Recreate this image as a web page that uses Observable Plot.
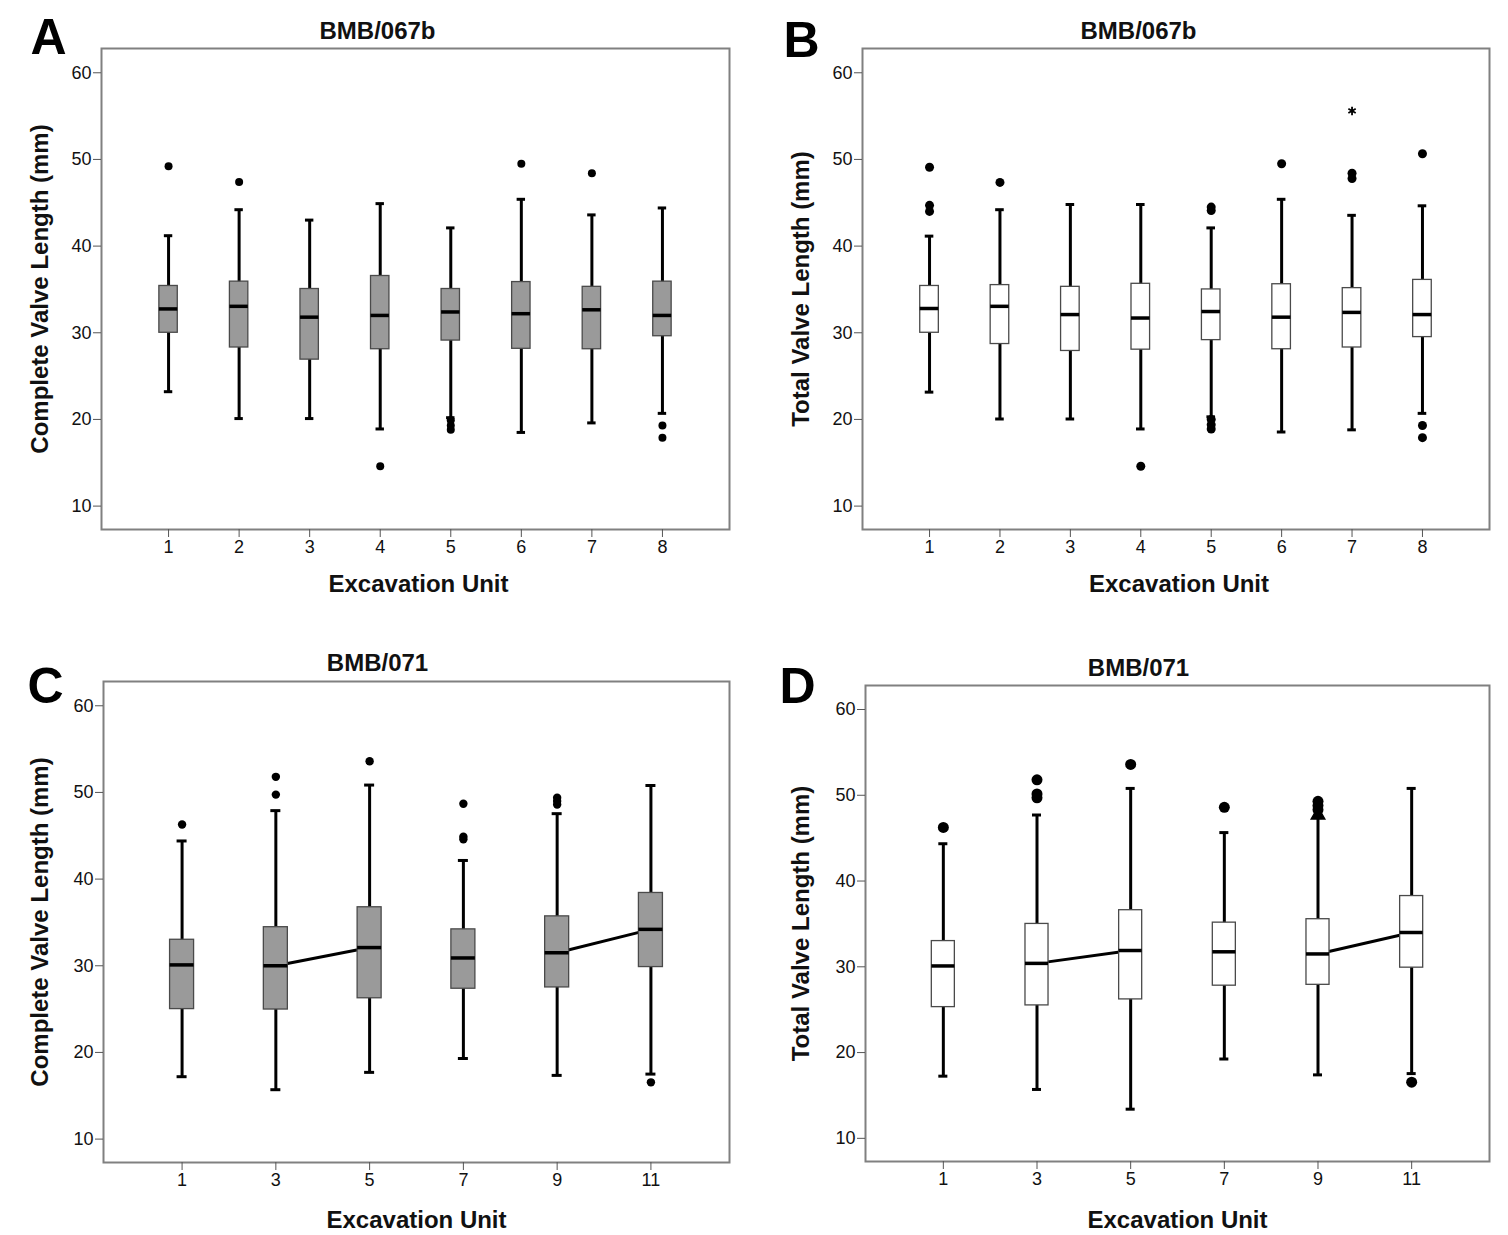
<!DOCTYPE html>
<html>
<head>
<meta charset="utf-8">
<script src="https://cdn.jsdelivr.net/npm/d3@7"></script>
<script src="https://cdn.jsdelivr.net/npm/@observablehq/plot@0.6"></script>
<style>
  html, body { margin: 0; padding: 0; background: #fff; }
  #root { position: relative; width: 1508px; height: 1235px; overflow: hidden; font-family: "Liberation Sans", Arial, sans-serif; }
  .panel { position: absolute; }
</style>
</head>
<body>
<div id="root"></div>
<script>
// ---------- DATA ----------
const yTicks = [10, 20, 30, 40, 50, 60];

// Site BMB/067b, units 1-8
const unitsTop = ["1", "2", "3", "4", "5", "6", "7", "8"];

// Panel A: Complete Valve Length
const aLow  = [23.2, 20.1, 20.1, 18.9, 20.2, 18.5, 19.6, 20.7];
const aQ1   = [30.0, 28.3, 26.9, 28.1, 29.1, 28.15, 28.1, 29.6];
const aMed  = [32.75, 33.05, 31.8, 32.0, 32.4, 32.2, 32.65, 32.0];
const aQ3   = [35.4, 35.9, 35.05, 36.55, 35.05, 35.85, 35.3, 35.9];
const aHigh = [41.2, 44.2, 43.0, 44.9, 42.1, 45.4, 43.6, 44.4];
const aOutUnit = ["1", "2", "4", "5", "5", "5", "6", "7", "8", "8"];
const aOutVal  = [49.2, 47.4, 14.6, 19.9, 19.3, 18.8, 49.5, 48.4, 19.3, 17.9];

// Panel B: Total Valve Length
const bLow  = [23.15, 20.05, 20.05, 18.9, 20.3, 18.55, 18.8, 20.7];
const bQ1   = [30.0, 28.7, 27.9, 28.05, 29.15, 28.1, 28.3, 29.5];
const bMed  = [32.8, 33.05, 32.1, 31.7, 32.45, 31.8, 32.35, 32.1];
const bQ3   = [35.4, 35.5, 35.3, 35.65, 35.0, 35.6, 35.15, 36.1];
const bHigh = [41.15, 44.2, 44.8, 44.8, 42.1, 45.4, 43.55, 44.65];
const bOutUnit = ["1", "1", "1", "2", "4", "5", "5", "5", "5", "5", "6", "7", "7", "8", "8", "8"];
const bOutVal  = [49.1, 44.7, 44.0, 47.35, 14.6, 44.5, 44.1, 20.0, 19.4, 18.9, 49.5, 48.4, 47.8, 50.65, 19.3, 17.9];
const bExtUnit = ["7"];
const bExtVal  = [55.6];

// Site BMB/071, units 1,3,5,7,9,11
const unitsBottom = ["1", "3", "5", "7", "9", "11"];

// Panel C: Complete Valve Length
const cLow  = [17.2, 15.7, 17.7, 19.3, 17.35, 17.5];
const cQ1   = [25.0, 24.95, 26.25, 27.35, 27.5, 29.85];
const cMed  = [30.1, 30.0, 32.1, 30.9, 31.5, 34.2];
const cQ3   = [33.0, 34.45, 36.75, 34.2, 35.7, 38.4];
const cHigh = [44.4, 47.9, 50.85, 42.15, 47.55, 50.8];
const cOutUnit = ["1", "3", "3", "5", "7", "7", "7", "9", "9", "9", "11"];
const cOutVal  = [46.3, 51.8, 49.75, 53.6, 48.7, 44.9, 44.6, 49.4, 49.0, 48.6, 16.55];

// Panel D: Total Valve Length
const dLow  = [17.25, 15.7, 13.4, 19.25, 17.4, 17.55];
const dQ1   = [25.3, 25.5, 26.2, 27.8, 27.9, 29.9];
const dMed  = [30.1, 30.4, 31.9, 31.75, 31.5, 34.0];
const dQ3   = [33.0, 35.0, 36.6, 35.15, 35.55, 38.25];
const dHigh = [44.35, 47.7, 50.8, 45.65, 47.4, 50.8];
const dOutUnit = ["1", "3", "3", "3", "5", "7", "9", "9", "9", "11"];
const dOutVal  = [46.25, 51.8, 50.15, 49.7, 53.6, 48.6, 49.3, 48.8, 48.3, 16.55];
const dTriUnit = ["9"];
const dTriVal  = [47.7];

// median connectors (bottom panels)
const linkFrom = ["3", "9"];
const linkTo   = ["5", "11"];

// ---------- BUILD ----------
function stats(units, lo, q1, med, q3, hi) {
  return units.map((u, i) => ({unit: u, lo: lo[i], q1: q1[i], med: med[i], q3: q3[i], hi: hi[i]}));
}
function pts(units, vals) { return units.map((u, i) => ({unit: u, v: vals[i]})); }

function panel(cfg) {
  const s = stats(cfg.units, cfg.lo, cfg.q1, cfg.med, cfg.q3, cfg.hi);
  const medOf = Object.fromEntries(s.map(d => [d.unit, d.med]));
  const marks = [Plot.frame({stroke: "#808080", strokeWidth: 2})];
  if (cfg.links) {
    const L = linkFrom.map((f, i) => ({a: f, b: linkTo[i], ya: medOf[f], yb: medOf[linkTo[i]]}));
    marks.push(Plot.link(L, {x1: "a", x2: "b", y1: "ya", y2: "yb", stroke: "#000", strokeWidth: 3}));
  }
  marks.push(
    Plot.ruleX(s, {x: "unit", y1: "lo", y2: "hi", stroke: "#000", strokeWidth: 3}),
    Plot.tickY(s, {x: "unit", y: "hi", stroke: "#000", strokeWidth: 3, insetLeft: cfg.capInset, insetRight: cfg.capInset}),
    Plot.tickY(s, {x: "unit", y: "lo", stroke: "#000", strokeWidth: 3, insetLeft: cfg.capInset, insetRight: cfg.capInset}),
    Plot.barY(s, {x: "unit", y1: "q1", y2: "q3", fill: cfg.fill, stroke: "#4a4a4a", strokeWidth: 1.3}),
    Plot.tickY(s, {x: "unit", y: "med", stroke: "#000", strokeWidth: 3.5}),
    Plot.dot(pts(cfg.outUnit, cfg.outVal), {x: "unit", y: "v", r: cfg.r, fill: "#000", stroke: "none"})
  );
  if (cfg.extUnit) marks.push(Plot.dot(pts(cfg.extUnit, cfg.extVal), {x: "unit", y: "v", symbol: "asterisk", r: 4, stroke: "#000", strokeWidth: 1.8}));
  if (cfg.triUnit) marks.push(Plot.dot(pts(cfg.triUnit, cfg.triVal), {x: "unit", y: "v", symbol: "triangle", r: 5, fill: "#000", stroke: "#000"}));
  marks.push(
    Plot.axisY({ticks: yTicks, tickSize: 8, tickPadding: 2, fontSize: 18, stroke: "#555", fill: "#111", label: null}),
    Plot.axisX({tickSize: 8, tickPadding: 3, fontSize: 18, stroke: "#555", fill: "#111", label: null}),
    Plot.text([cfg.letter], {text: d => d, frameAnchor: "top-left", dx: cfg.letterDx, dy: cfg.letterDy, textAnchor: "start", lineAnchor: "top", fontSize: 50, fontWeight: "bold", fill: "#000"}),
    Plot.text([cfg.title], {text: d => d, frameAnchor: "top-left", dx: cfg.titleDx, dy: cfg.titleDy, textAnchor: "middle", lineAnchor: "top", fontSize: 24, fontWeight: "bold", fill: "#111"}),
    Plot.text([cfg.ylabel], {text: d => d, frameAnchor: "left", dx: cfg.ylabDx, rotate: -90, textAnchor: "middle", lineAnchor: "middle", fontSize: 24, fontWeight: "bold", fill: "#111"}),
    Plot.text(["Excavation Unit"], {text: d => d, frameAnchor: "bottom", dx: cfg.xlabDx, dy: cfg.xlabDy, textAnchor: "middle", lineAnchor: "top", fontSize: 24, fontWeight: "bold", fill: "#111"})
  );
  const svg = Plot.plot({
    width: cfg.width, height: cfg.height,
    marginLeft: cfg.mL, marginRight: cfg.mR, marginTop: cfg.mT, marginBottom: cfg.mB,
    style: {fontFamily: "'Liberation Sans', Arial, sans-serif", fontSize: "18px", background: "transparent", overflow: "visible"},
    x: {type: "band", domain: cfg.units, paddingInner: cfg.pi, paddingOuter: cfg.po, align: 0.5, round: false},
    y: {domain: [7.3, 62.8]},
    marks
  });
  const wrap = document.createElement("div");
  wrap.className = "panel";
  wrap.style.left = cfg.left + "px";
  wrap.style.top = cfg.top + "px";
  wrap.appendChild(svg);
  document.getElementById("root").appendChild(wrap);
}

panel({
  left: 0, top: 0, width: 754, height: 617, mL: 101, mR: 25, mT: 48, mB: 88,
  units: unitsTop, lo: aLow, q1: aQ1, med: aMed, q3: aQ3, hi: aHigh,
  outUnit: aOutUnit, outVal: aOutVal, r: 4, fill: "#9a9a9a",
  pi: 0.739, po: 0.82, capInset: 5,
  letter: "A", letterDx: -71, letterDy: -30, title: "BMB/067b", titleDx: 276, titleDy: -27,
  ylabel: "Complete Valve Length (mm)", ylabDx: -61, xlabDx: 3, xlabDy: 45
});
panel({
  left: 754, top: 0, width: 754, height: 617, mL: 108, mR: 19, mT: 48, mB: 88,
  units: unitsTop, lo: bLow, q1: bQ1, med: bMed, q3: bQ3, hi: bHigh,
  outUnit: bOutUnit, outVal: bOutVal, extUnit: bExtUnit, extVal: bExtVal, r: 4.5, fill: "#ffffff",
  pi: 0.736, po: 0.82, capInset: 5,
  letter: "B", letterDx: -79, letterDy: -27, title: "BMB/067b", titleDx: 276, titleDy: -27,
  ylabel: "Total Valve Length (mm)", ylabDx: -61, xlabDx: 3, xlabDy: 45
});
panel({
  left: 0, top: 617, width: 754, height: 618, mL: 103, mR: 25, mT: 64, mB: 73,
  units: unitsBottom, lo: cLow, q1: cQ1, med: cMed, q3: cQ3, hi: cHigh,
  outUnit: cOutUnit, outVal: cOutVal, r: 4.2, fill: "#9a9a9a", links: true,
  pi: 0.744, po: 0.71, capInset: 7,
  letter: "C", letterDx: -76, letterDy: -14, title: "BMB/071", titleDx: 274, titleDy: -28,
  ylabel: "Complete Valve Length (mm)", ylabDx: -63, xlabDx: 0, xlabDy: 48
});
panel({
  left: 754, top: 617, width: 754, height: 618, mL: 111, mR: 19, mT: 68, mB: 74,
  units: unitsBottom, lo: dLow, q1: dQ1, med: dMed, q3: dQ3, hi: dHigh,
  outUnit: dOutUnit, outVal: dOutVal, triUnit: dTriUnit, triVal: dTriVal, r: 5.5, fill: "#ffffff", links: true,
  pi: 0.754, po: 0.708, capInset: 7,
  letter: "D", letterDx: -86, letterDy: -18, title: "BMB/071", titleDx: 273, titleDy: -27,
  ylabel: "Total Valve Length (mm)", ylabDx: -64, xlabDx: 0, xlabDy: 49
});
</script>
</body>
</html>
